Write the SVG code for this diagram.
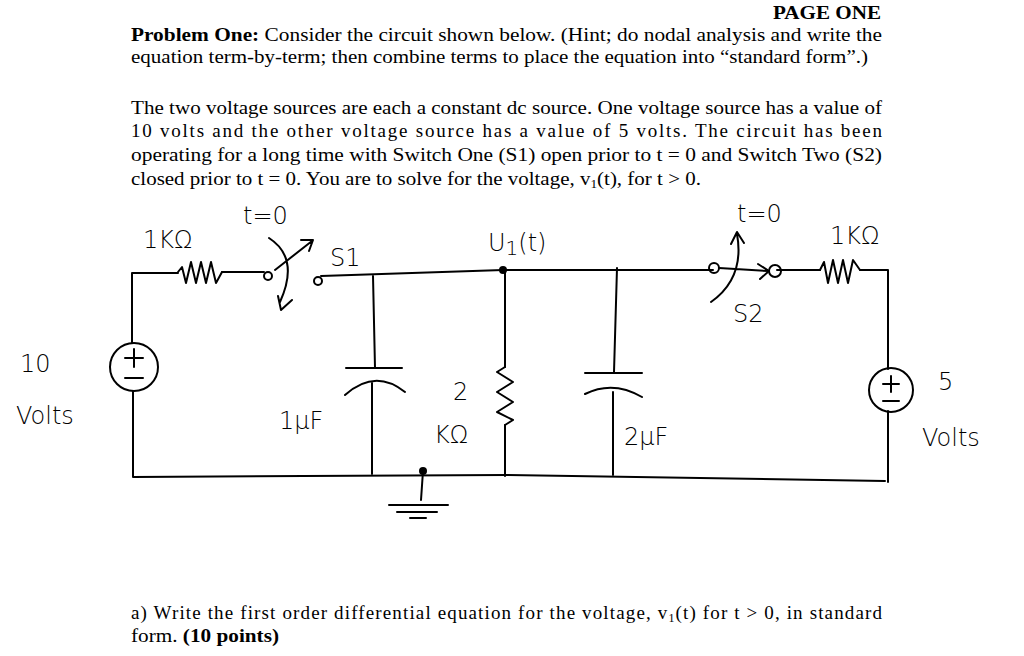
<svg xmlns="http://www.w3.org/2000/svg" width="1024" height="656" viewBox="0 0 1024 656">
<style>
.t{font-family:"Liberation Serif",serif;font-size:19px;fill:#000}
.b{font-weight:bold}
.h{font-family:"DejaVu Sans",sans-serif;font-size:24px;fill:#000;font-weight:300}
.w{fill:none;stroke:#000;stroke-width:2;stroke-linecap:round;stroke-linejoin:round}
</style>
<rect width="1024" height="656" fill="#fff"/>
<g id="text">
<text class="t b" x="881" y="19" text-anchor="end" textLength="108" lengthAdjust="spacingAndGlyphs">PAGE ONE</text>
<text class="t" x="131" y="41" textLength="751" lengthAdjust="spacingAndGlyphs"><tspan class="b">Problem One:</tspan> Consider the circuit shown below. (Hint; do nodal analysis and write the</text>
<text class="t" x="131" y="63" textLength="737" lengthAdjust="spacingAndGlyphs">equation term-by-term; then combine terms to place the equation into “standard form”.)</text>
<text class="t" x="131" y="114" textLength="751" lengthAdjust="spacingAndGlyphs">The two voltage sources are each a constant dc source. One voltage source has a value of</text>
<text class="t" x="131" y="137" textLength="751" lengthAdjust="spacing">10 volts and the other voltage source has a value of 5 volts. The circuit has been</text>
<text class="t" x="131" y="161" textLength="751" lengthAdjust="spacingAndGlyphs">operating for a long time with Switch One (S1) open prior to t = 0 and Switch Two (S2)</text>
<text class="t" x="131" y="185" textLength="570" lengthAdjust="spacingAndGlyphs">closed prior to t = 0. You are to solve for the voltage, v<tspan font-size="12" dy="3">1</tspan><tspan dy="-3">(t), for t &gt; 0.</tspan></text>
<text class="t" x="131" y="619" textLength="751" lengthAdjust="spacing">a) Write the first order differential equation for the voltage, v<tspan font-size="12" dy="3">1</tspan><tspan dy="-3">(t) for t &gt; 0, in standard</tspan></text>
<text class="t" x="131" y="642" textLength="148" lengthAdjust="spacingAndGlyphs">form. <tspan class="b">(10 points)</tspan></text>
</g>
<g id="labels">
<text class="h" x="143" y="248">1KΩ</text>
<text class="h" x="243" y="224" font-size="28">t=0</text>
<text class="h" x="330" y="266">S1</text>
<text class="h" x="488" y="251" font-size="32">U<tspan font-size="20" dy="4">1</tspan><tspan dy="-4">(t)</tspan></text>
<text class="h" x="737" y="222" font-size="28">t=0</text>
<text class="h" x="830" y="244">1KΩ</text>
<text class="h" x="733" y="322">S2</text>
<text class="h" x="20" y="372" font-size="28">10</text>
<text class="h" x="16" y="424" font-size="26">Volts</text>
<text class="h" x="279" y="429">1μF</text>
<text class="h" x="453" y="400" font-size="26">2</text>
<text class="h" x="434" y="443">KΩ</text>
<text class="h" x="624" y="445" font-size="26">2μF</text>
<text class="h" x="938" y="390" font-size="28">5</text>
<text class="h" x="922" y="446" font-size="26">Volts</text>
</g>
<g id="connectors">
<path class="w" d="M132 343 V273 H178 M222 272 H264 M321 276 L503 270 H713 M777 270 H820 M860 270 H888 V369 M888 411 V482 M133 391 V477 L506 475 L885 481"/>
<path class="w" d="M373 276 L375 368 M372 383 V474 M505 270 V367 M505 425 V476 M617 268 L614 372 M613 392 V475"/>
<path class="w" d="M423 471 L421 500 M389 505 H448 M397 512 H437 M410 518 H426"/>
</g>
<g id="components">
<path class="w" d="M178 272 L182 267 L186 283 L191 262 L196 283 L201 262 L206 283 L211 262 L216 283 L222 272"/>
<path class="w" d="M820 270 L824 262 L828 283 L833 260 L838 283 L843 260 L848 283 L853 260 L860 270"/>
<path class="w" d="M505 367 L497 372 L513 382 L497 392 L513 402 L497 412 L513 420 L505 425"/>
<circle class="w" cx="268" cy="276" r="4"/><circle class="w" cx="318" cy="281" r="4"/>
<path class="w" d="M269 238 Q300 258 280 302 M278 296 L281 310 L292 300 M275 270 L312 241 M301 240 L313 240 L309 251"/>
<circle class="w" cx="714" cy="268" r="5"/><circle class="w" cx="775" cy="271" r="6"/>
<path class="w" d="M711 302 Q745 278 737 234 M731 244 L737 232 L744 243 M719 268 L768 271 M758 264 L769 271 L760 279"/>
<path class="w" d="M346 368 H402 M345 395 Q375 368 405 392 M585 373 H642 M585 394 Q613 380 642 397"/>
<circle class="w" cx="134" cy="367" r="24"/>
<path class="w" d="M125 358 H143 M134 349 V367 M125 378 H143"/>
<circle class="w" cx="891" cy="390" r="22"/>
<path class="w" d="M883 384 H899 M891 376 V392 M883 401 H899"/>
<circle cx="503" cy="270" r="4"/><circle cx="423" cy="471" r="4"/>
</g>
</svg>
